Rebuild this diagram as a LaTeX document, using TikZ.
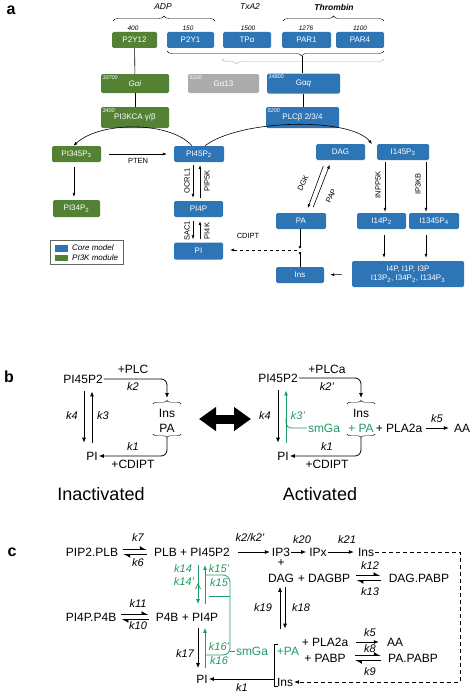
\documentclass[tikz,border=0pt]{standalone}
\usepackage{fontspec}
\setmainfont{Liberation Sans}
\usetikzlibrary{arrows.meta,decorations.pathreplacing}
\definecolor{coreblue}{RGB}{46,117,182}
\definecolor{pigreen}{RGB}{84,130,53}
\definecolor{offgray}{RGB}{172,172,172}
\definecolor{smgreen}{RGB}{32,155,100}
\tikzset{
  box/.style={rounded corners=1.5pt, text=white, inner sep=0pt, font=\fontsize{8}{9.5}\selectfont},
  core/.style={box, fill=coreblue},
  pik/.style={box, fill=pigreen},
  wh/.style 2 args={minimum width=#1, minimum height=#2},
  cnt/.style={anchor=north west, inner sep=0pt, text=white, font=\fontsize{5.5}{6}\selectfont\itshape},
  num/.style={inner sep=0pt, font=\fontsize{6.5}{7}\selectfont\itshape},
  grp/.style={inner sep=0pt, font=\fontsize{8.5}{10}\selectfont\itshape},
  enz/.style={inner sep=0pt, font=\fontsize{7.5}{9}\selectfont},
  leg/.style={inner sep=0pt, anchor=west, font=\fontsize{8}{9}\selectfont\itshape},
  brc/.style={decorate, decoration={brace, amplitude=5pt, aspect=#1}},
  brc/.default=0.5,
  sbrc/.style={decorate, decoration={brace, amplitude=3.5pt}},
  arr/.style={-{Latex[length=4pt,width=3pt]}, line width=0.6pt},
  plab/.style={inner sep=0pt, font=\fontsize{16}{18}\selectfont\bfseries},
  rx/.style={inner sep=1pt, font=\fontsize{12}{14}\selectfont},
  kk/.style={inner sep=1pt, font=\fontsize{11}{13}\selectfont\itshape},
  big/.style={inner sep=0pt, font=\fontsize{18}{20}\selectfont},
  bar/.style={-{Latex[length=5pt,width=4pt]}, line width=0.8pt},
  hp/.style={-{Latex[harpoon,length=6pt,width=7pt]}, line width=0.8pt},
  gbar/.style={bar, smgreen},
  gline/.style={smgreen, line width=0.8pt},
}
\begin{document}
\begin{tikzpicture}[x=1pt,y=-1pt]
\useasboundingbox (0,0) rectangle (474,693);
% ---------- a ----------
\node[plab] (la) at (11,10) {a};
\node[grp] (adp) at (163,7) {ADP};
\node[grp] (txa) at (250,7) {TxA2};
\node[grp, font=\fontsize{8.5}{10}\selectfont\bfseries\itshape] (thr) at (334,7) {Thrombin};
\draw[brc] (113,21) -- (215,21);
\draw[brc] (283,21) -- (384,21);
\node[num] at (133,28) {400};
\node[num] at (188,28) {150};
\node[num] at (248,28) {1500};
\node[num] at (306,28) {1276};
\node[num] at (360,28) {1100};
\node[pik, wh={45}{16}] (p2y12) at (134.5,40) {P2Y12};
\node[core, wh={47}{16}] (p2y1) at (190.5,40) {P2Y1};
\node[core, wh={48}{16}] (tpa) at (247,40) {TPα};
\node[core, wh={49}{16}] (par1) at (306.5,40) {PAR1};
\node[core, wh={48}{16}] (par4) at (360,40) {PAR4};
\draw[brc=0.38] (384,51) -- (167,51);
\draw[brc=0.91, offgray] (384,59) -- (222,59);
\coordinate (rtip) at (302,56);
\node[pik, wh={68}{19}] (gai) at (135,83.5) {\textit{Gαi}};
\node[box, fill=offgray, wh={71}{19}] (ga13) at (223.5,83.5) {Gα13};
\node[core, wh={73}{20}] (gaq) at (303.5,83.5) {Gα\textit{q}};
\node[pik, wh={68}{21}] (pi3k) at (135,117.5) {PI3KCA γ/β};
\node[core, wh={73}{21}] (plcb) at (302.5,117.5) {PLCβ 2/3/4};
\node[cnt] at ([shift={(1.5,1.5)}]gai.north west) {33700};
\node[cnt] at ([shift={(1.5,1.5)}]ga13.north west) {6100};
\node[cnt] at ([shift={(1.5,1.5)}]gaq.north west) {14800};
\node[cnt] at ([shift={(1.5,1.5)}]pi3k.north west) {3400};
\node[cnt] at ([shift={(1.5,1.5)}]plcb.north west) {5200};
\draw[line width=0.6pt] (p2y12) -- (gai);
\draw[line width=0.6pt] (gai) -- (pi3k);
\draw[line width=0.6pt] (rtip) -- (rtip |- gaq.north);
\draw[line width=0.6pt] (gaq) -- (gaq |- plcb.north);
\node[pik, wh={49}{16}] (pi345p3) at (76.5,154) {PI345P\textsubscript{3}};
\node[core, wh={50}{16}] (pi45p2) at (199,154) {PI45P\textsubscript{2}};
\node[core, wh={49}{16}] (dag) at (340.5,152) {DAG};
\node[core, wh={52}{16}] (i145p3) at (403,152) {I145P\textsubscript{3}};
\node[pik, wh={47}{17}] (pi34p2) at (76.5,208.5) {PI34P\textsubscript{2}};
\node[core, wh={49}{16}] (pi4p) at (198.5,209) {PI4P};
\node[core, wh={49}{17}] (pi) at (198.5,251) {PI};
\node[core, wh={50}{16}] (pa) at (301,221) {PA};
\node[core, wh={48}{16}] (ins) at (300,275) {Ins};
\node[core, wh={49}{16}] (i14p2) at (381.5,221) {I14P\textsubscript{2}};
\node[core, wh={50}{16}] (i1345p4) at (434,221) {I1345P\textsubscript{4}};
\node[core, wh={112}{26}, align=center] (ipmix) at (408,274) {I4P, I1P, I3P\\I13P\textsubscript{2}, I34P\textsubscript{2}, I134P\textsubscript{3}};
\draw[arr] ([xshift=-7]pi45p2.north) .. controls (170,121) and (100,121) .. ([xshift=-3]pi345p3.north);
\coordinate (plcout) at (372,144);
\draw[arr] ([xshift=6]pi45p2.north) .. controls (240,119) and (350,117) .. (plcout);
\draw[arr, shorten <=8pt, shorten >=7pt] (pi345p3) -- (pi45p2);
\node[enz] (pten) at (138,161) {PTEN};
\draw[arr, shorten <=5pt, shorten >=3pt] ([xshift=-2.5]pi345p3.south) -- ([xshift=-2.5]pi34p2.north);
\draw[arr, shorten <=3pt, shorten >=3pt] ([xshift=-5.5]pi4p.north |- pi45p2.south) -- ([xshift=-5.5]pi4p.north);
\draw[arr, shorten <=3pt, shorten >=3pt] ([xshift=1.5]pi4p.north) -- ([xshift=1.5]pi4p.north |- pi45p2.south);
\draw[arr, shorten <=4pt, shorten >=3pt] ([xshift=-5.5]pi4p.south) -- ([xshift=-5.5]pi4p.south |- pi.north);
\draw[arr, shorten <=3pt, shorten >=4pt] ([xshift=1.5]pi4p.south |- pi.north) -- ([xshift=1.5]pi4p.south);
\node[enz, rotate=90] (ocrl) at (187,181) {OCRL1};
\node[enz, rotate=90] (pip5k) at (207,181) {PIP5K};
\node[enz, rotate=90] (sac) at (187,231) {SAC1};
\node[enz, rotate=90] (pi4k) at (207,231) {PI4K};
\draw[arr, shorten <=6pt, shorten >=5pt] ([xshift=-15]dag.south) -- ([xshift=5]pa.north);
\draw[arr, shorten <=6pt, shorten >=5pt] ([xshift=10]pa.north) -- ([xshift=-9]dag.south);
\node[enz, rotate=64] (dgk) at (303,183) {DGK};
\node[enz, rotate=64] (pap) at (331,196) {PAP};
\draw[arr, shorten <=2pt, shorten >=1pt] ([xshift=3.5]i14p2.north |- i145p3.south) -- ([xshift=3.5]i14p2.north);
\draw[arr, shorten <=2pt, shorten >=1pt] ([xshift=-8]i1345p4.north |- i145p3.south) -- ([xshift=-8]i1345p4.north);
\node[enz, rotate=90] (inpp) at (378,185) {INPP5K};
\node[enz, rotate=90] (ip3kb) at (418,184) {IP3KB};
\draw[arr, shorten <=6pt, shorten >=3pt] ([xshift=2.5]i14p2.south) -- ([xshift=2.5]i14p2.south |- ipmix.north);
\draw[arr, shorten <=6pt, shorten >=3pt] ([xshift=-8]i1345p4.south) -- ([xshift=-8]i1345p4.south |- ipmix.north);
\draw[arr, shorten <=10pt, shorten >=6pt] (ipmix) -- (ins);
\coordinate (jpa) at (300,247);
\coordinate (jins) at (300,253);
\coordinate (jmid) at (297,250);
\draw[line width=0.6pt] (jpa |- pa.south) -- (jpa);
\draw[line width=0.6pt] (jins |- ins.north) -- (jins);
\fill (jpa) circle (1.4);
\fill (jins) circle (1.4);
\draw[arr, dashed, shorten >=7pt] (jmid) -- (jmid -| pi.east);
\node[enz] (cdipt) at (248,236) {CDIPT};
\draw[gray!80!black, line width=0.7pt] (50,240) rectangle (123,264);
\fill[coreblue] (55,245) rectangle (68,251.5);
\node[leg] (lcore) at (72,248) {Core model};
\fill[pigreen] (55,255) rectangle (68,261);
\node[leg] (lpik) at (72,258) {PI3K module};
% ---------- b ----------
\node[plab] (lb) at (9,377) {b};
\node[rx] (ipip2) at (83,379) {PI45P2};
\node[rx] (iplc) at (133,369) {+PLC};
\node[kk] (ik2) at (133,387) {k2};
\coordinate (itop) at (167,398);
\draw[bar, rounded corners=6pt] (ipip2.east) -| (itop);
\draw[sbrc] (153,404) -- (181,404);
\node[rx] (iins) at (167,413) {Ins};
\node[rx] (ipa) at (167,428) {PA};
\draw[sbrc] (181,434) -- (153,434);
\coordinate (ibot) at (167,438);
\node[rx] (ipi) at (92,456) {PI};
\draw[bar, rounded corners=6pt] (ibot) |- (ipi);
\node[kk] (ik1) at (133,447) {k1};
\node[rx] (icdipt) at (133,464) {+CDIPT};
\draw[bar, shorten <=7pt, shorten >=8pt] ([xshift=-8]ipi.north |- ipip2.south) -- ([xshift=-8]ipi.north);
\draw[bar, shorten <=8pt, shorten >=7pt] (ipi.north) -- (ipi.north |- ipip2.south);
\node[kk] (ik4) at (72,416) {k4};
\node[kk] (ik3) at (103,416) {k3};
\node[big] (inact) at (101,494) {Inactivated};
\coordinate (bl) at (199,419);
\coordinate (br) at (251,419);
\draw[line width=9pt, {Triangle[length=17pt,width=23pt]}-{Triangle[length=17pt,width=23pt]}] (bl) -- (br);
\node[rx] (apip2) at (278,378) {PI45P2};
\node[rx] (aplc) at (327,369) {+PLCa};
\node[kk] (ak2) at (327,387) {k2'};
\coordinate (atop) at (361,398);
\draw[bar, rounded corners=6pt] (apip2.east) -| (atop);
\draw[sbrc] (347,404) -- (375,404);
\node[rx] (ains) at (361,413) {Ins};
\node[rx, text=smgreen] (apa) at (361,428) {+ PA};
\node[rx, text=smgreen] (asmga) at (324,428) {smGa};
\node[rx] (apla2a) at (399,428) {+ PLA2a};
\node[rx] (aaa) at (462,428) {AA};
\draw[bar, shorten <=3pt, shorten >=4pt] (apla2a) -- (aaa);
\node[kk] (ak5) at (437,419) {k5};
\draw[sbrc] (375,434) -- (347,434);
\coordinate (abot) at (361,438);
\node[rx] (api) at (283,456) {PI};
\draw[bar, rounded corners=6pt] (abot) |- (api);
\node[kk] (ak1) at (327,447) {k1};
\node[rx] (acdipt) at (327,464) {+CDIPT};
\draw[bar, shorten <=7pt, shorten >=8pt] ([xshift=-5]api.north |- apip2.south) -- ([xshift=-5]api.north);
\draw[gbar, shorten <=8pt, shorten >=7pt] ([xshift=3]api.north) -- ([xshift=3]api.north |- apip2.south);
\coordinate (ak3j) at (286,418);
\draw[gline, rounded corners=5pt] (asmga.west) -| (ak3j);
\node[kk] (ak4) at (265,416) {k4};
\node[kk, text=smgreen] (ak3) at (298,416) {k3'};
\node[big] (act) at (320,494) {Activated};
% ---------- c ----------
\node[plab] (lc) at (12,552) {c};
\node[rx] (cpip2plb) at (92,552) {PIP2.PLB};
\node[rx] (cplb) at (192,552) {PLB + PI45P2};
\draw[hp, shorten <=4pt, shorten >=6pt] ([yshift=2.5]cpip2plb.east) -- ([yshift=2.5]cplb.west);
\draw[hp, shorten <=6pt, shorten >=4pt] ([yshift=-2.5]cplb.west) -- ([yshift=-2.5]cpip2plb.east);
\node[kk] at (138,538) {k7};
\node[kk] at (138,563) {k6};
\node[rx] (cip3) at (281,552) {IP3};
\node[rx] (cipx) at (318,552) {IPx};
\node[rx] (cins) at (366,552) {Ins};
\draw[bar, shorten <=7pt, shorten >=1pt] (cplb) -- (cip3);
\node[kk] at (250,538) {k2/k2'};
\draw[bar, shorten >=2pt] (cip3) -- (cipx);
\node[kk] at (302,540) {k20};
\draw[bar, shorten >=3pt] (cipx) -- (cins);
\node[kk] at (347,540) {k21};
\node[rx] (cplus) at (281,563) {+};
\node[rx] (cdag) at (281,578) {DAG};
\node[rx, anchor=west] (cdagbp) at ([xshift=1.5]cdag.east) {+ DAGBP};
\node[rx] (cdagpabp) at (419,578) {DAG.PABP};
\draw[hp, shorten <=5pt, shorten >=7pt] ([yshift=2.5]cdagbp.east) -- ([yshift=2.5]cdagpabp.west);
\draw[hp, shorten <=7pt, shorten >=5pt] ([yshift=-2.5]cdagpabp.west) -- ([yshift=-2.5]cdagbp.east);
\node[kk] at (370,566) {k12};
\node[kk] at (370,592) {k13};
\node[rx, text=smgreen] (cpa) at (288,651) {+PA};
\node[rx, text=smgreen] (csmga) at (252,651) {smGa};
\draw[bar, shorten <=17pt, shorten >=3.5pt] ([xshift=-1]cdag.south |- cpa.north) -- ([xshift=-1]cdag.south);
\draw[bar, shorten <=3.5pt, shorten >=17pt] ([xshift=4]cdag.south) -- ([xshift=4]cdag.south |- cpa.north);
\node[kk] at (263,608) {k19};
\node[kk] at (301,608) {k18};
\node[rx] (cpla2a) at (325,642) {+ PLA2a};
\node[rx] (caa) at (395,642) {AA};
\draw[bar, shorten <=7pt, shorten >=7pt] (cpla2a) -- (caa);
\node[kk] at (370,633) {k5};
\node[rx] (cpabp) at (325,658) {+ PABP};
\node[rx] (cpapabp) at (413,658) {PA.PABP};
\draw[hp, shorten <=8pt, shorten >=6pt] ([yshift=2.5]cpabp.east) -- ([yshift=2.5]cpapabp.west);
\draw[hp, shorten <=6pt, shorten >=8pt] ([yshift=-2.5]cpapabp.west) -- ([yshift=-2.5]cpabp.east);
\node[kk] at (370,649) {k8};
\node[kk] at (370,672) {k9};
\node[rx] (cinsb) at (285,682) {Ins};
\draw[line width=0.8pt] (278,644) -- (274.5,644) -- (274.5,686) -- (278,686);
\coordinate (cbrk) at (274.5,679);
\node[rx] (cpi) at (202,679) {PI};
\draw[bar] (cbrk) -- (cpi);
\node[kk] at (242,688) {k1};
\coordinate (dtr) at (460,552);
\coordinate (dbr) at (460,682);
\draw[bar, line width=0.7pt, dash pattern=on 4pt off 3pt] (cins) -- (dtr) -- (dbr) -- (cinsb);
\node[rx] (cpi4pp4b) at (91,617) {PI4P.P4B};
\node[rx] (cp4b) at (187,617) {P4B + PI4P};
\draw[hp, shorten <=4pt, shorten >=6pt] ([yshift=2.5]cpi4pp4b.east) -- ([yshift=2.5]cp4b.west);
\draw[hp, shorten <=6pt, shorten >=4pt] ([yshift=-2.5]cp4b.west) -- ([yshift=-2.5]cpi4pp4b.east);
\node[kk] at (138,604) {k11};
\node[kk] at (138,626) {k10};
\draw[gbar, shorten <=7.5pt, shorten >=7.5pt] ([xshift=11]cp4b.north |- cplb.south) -- ([xshift=11]cp4b.north);
\draw[gbar, shorten <=7.5pt, shorten >=7.5pt] ([xshift=18]cp4b.north) -- ([xshift=18]cp4b.north |- cplb.south);
\draw[bar, line width=1pt, shorten <=5.5pt, shorten >=5.5pt] ([xshift=11]cp4b.south) -- ([xshift=11]cp4b.south |- cpi.north);
\draw[gbar, shorten <=5.5pt, shorten >=5.5pt] ([xshift=18]cp4b.south |- cpi.north) -- ([xshift=18]cp4b.south);
\draw[gline, rounded corners=7pt] (205,575) -- (230,575) -- (230,655) -- (205,655);
\draw[gline] (209,596) -- (230,596);
\draw[gline] (csmga.west) -- (230,651);
\draw[gline] (195.5,589) -- (198,584) -- (200.5,589);
\node[kk, text=smgreen] at (183,569) {k14};
\node[kk, text=smgreen] at (184,582) {k14'};
\node[kk, text=smgreen] at (219,569) {k15'};
\node[kk, text=smgreen] at (219,583) {k15};
\node[kk, text=smgreen] at (219,647) {k16'};
\node[kk, text=smgreen] at (219,661) {k16};
\node[kk] at (185,654) {k17};
\end{tikzpicture}
\end{document}
